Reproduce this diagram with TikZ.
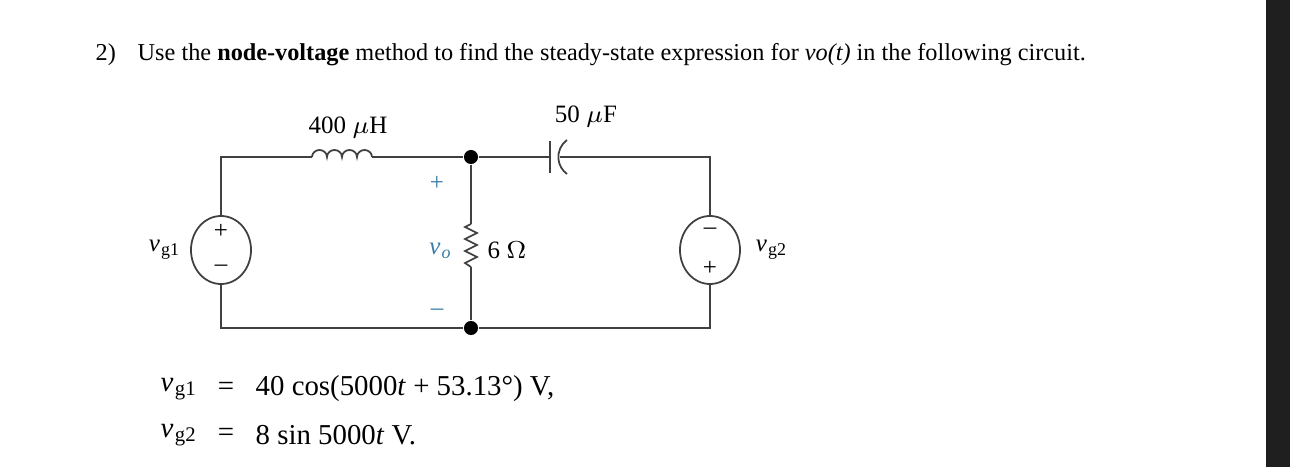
\documentclass[tikz,border=0pt]{standalone}
\usepackage{fontspec}
\usepackage{graphicx}
\setmainfont{Liberation Serif}
\usetikzlibrary{shapes.geometric}
\definecolor{lbl}{HTML}{3A7CA5}
\newcommand{\vsub}[1]{\textit{v}\kern0.05em\raisebox{-0.35ex}{\scalebox{0.72}{#1}}}
\begin{document}
\begin{tikzpicture}[x=0.01cm,y=-0.01cm,
  wire/.style={line width=0.5pt,draw=black!75},
  txt/.style={font=\fontsize{7.1}{8}\selectfont,inner sep=0},
  big/.style={font=\fontsize{8.2}{9}\selectfont,inner sep=0},
  blue/.style={txt,text=lbl},
  src/.style={wire,ellipse,minimum width=0.6cm,minimum height=0.68cm,inner sep=0},
  dot/.style={circle,fill=black,inner sep=0,minimum size=4pt}]
\useasboundingbox (0,0) rectangle (1290,467);
\fill[black!88] (1266,0) rectangle (1290,467);
\node[font=\fontsize{6.9}{8}\selectfont,inner sep=0,anchor=west] (title) at (95,55) {2)\hspace{0.9em}Use the \textbf{node-voltage} method to find the steady-state expression for \textit{vo(t)} in the following circuit.};
\node[dot] (nt) at (471,157) {};
\node[dot] (nb) at (471,328) {};
\coordinate (tl) at (221,157); \coordinate (bl) at (221,328);
\coordinate (tr) at (710,157); \coordinate (br) at (710,328);
\node[draw,src] (s1) at (221,250) {};
\node[draw,src] (s2) at (710,250) {};
\node[txt] at (221,231) {+}; \node[txt] at (221,268) {--};
\node[txt] at (710,231) {--}; \node[txt] at (710,268) {+};
\coordinate (l1) at (312,157); \coordinate (l2) at (372,157);
\coordinate (c1) at (550,157); \coordinate (c2) at (560,157);
\coordinate (r1) at (471,224); \coordinate (r2) at (471,267);
\draw[wire] (s1.north) -- (tl) -- (l1);
\draw[wire] (l1) \foreach \i in {0,...,3}{ arc(180:360:7.5 and 7)};
\draw[wire] (l2) -- (nt) -- (c1);
\draw[wire] (c1) ++(0,-16) -- ++(0,32);
\draw[wire] (c2) ++(7,-17) arc(234:126:21);
\draw[wire] (c2) -- (tr) -- (s2.north);
\draw[wire] (s2.south) -- (br) -- (nb) -- (bl) -- (s1.south);
\draw[wire] (nt) -- (r1);
\draw[wire] (r1) -- ++(-6,3) -- ++(12,6) -- ++(-12,6) -- ++(12,6) -- ++(-12,6) -- ++(12,6) -- ++(-12,6) -- ++(6,4) -- (r2);
\draw[wire] (r2) -- (nb);
\node[txt] (lL) at (348,128) {400 $\mu$H};
\node[txt] (lC) at (586,117) {50 $\mu$F};
\node[txt] (lR) at (507,250) {6 $\Omega$};
\node[blue] at (437,183) {+};
\node[blue] at (440,251) {\vsub{\textit{o}}};
\node[blue] at (437,312) {--};
\node[txt] at (164,250) {\vsub{g1}};
\node[txt] at (771,250) {\vsub{g2}};
\node[big,anchor=west] at (160,389) {\vsub{g1}};
\node[big] at (226,389) {=};
\node[big,anchor=west] at (255,389) {40 cos(5000\textit{t} + 53.13°) V,};
\node[big,anchor=west] at (160,435) {\vsub{g2}};
\node[big] at (226,435) {=};
\node[big,anchor=west] at (255,435) {8 sin 5000\textit{t} V.};
\end{tikzpicture}
\end{document}
